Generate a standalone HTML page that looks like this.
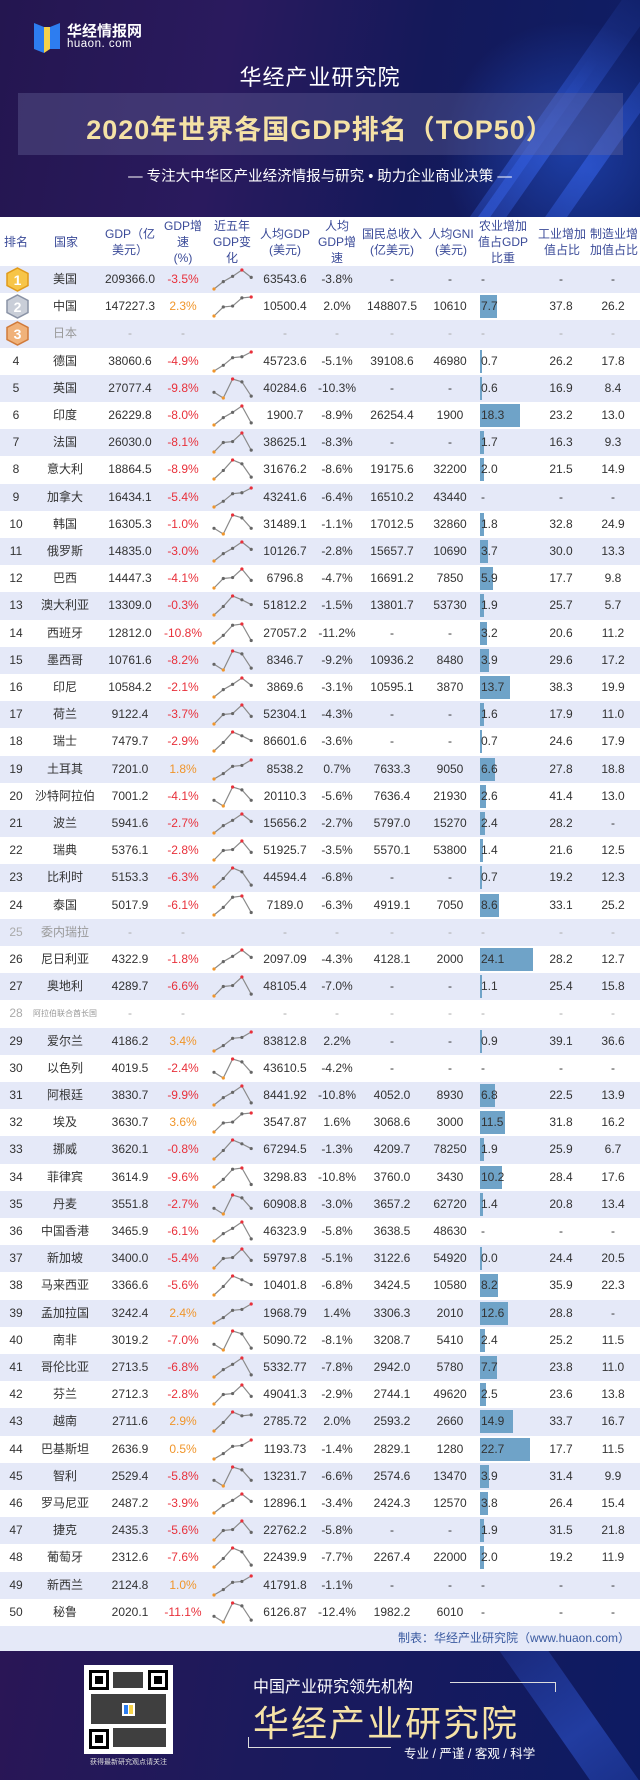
<!DOCTYPE html>
<html><head><meta charset="utf-8">
<style>
*{margin:0;padding:0;box-sizing:border-box}
body{width:640px;height:1780px;position:relative;overflow:hidden;background:#fff;font-family:"Liberation Sans","Noto Sans CJK SC",sans-serif;color:#333}
#hdr{position:absolute;left:0;top:0;width:640px;height:217px;background:linear-gradient(100deg,#241650 0%,#2a1a5e 35%,#14195a 65%,#0e1e66 100%);overflow:hidden}
#hdr .glow{position:absolute;right:-60px;top:20px;width:260px;height:260px;background:radial-gradient(circle,rgba(40,90,220,.55),rgba(20,40,140,0) 70%)}
.stripe{position:absolute;width:30px;height:420px;background:linear-gradient(180deg,rgba(60,110,255,0),rgba(60,110,255,.45),rgba(60,110,255,0));transform:rotate(35deg)}
.logo{position:absolute;left:34px;top:23px;width:26px;height:30px}
.lt1{position:absolute;left:67px;top:20px;color:#fff;font-size:15px;font-weight:bold}
.lt2{position:absolute;left:67px;top:38px;color:#fff;font-size:11.5px;letter-spacing:.5px}
.t1{position:absolute;left:0;width:640px;top:60px;text-align:center;color:#fff;font-size:22px;letter-spacing:1px}
.tbox{position:absolute;left:18px;top:93px;width:605px;height:62px;background:rgba(110,110,160,.35)}
.t2{position:absolute;left:0;width:640px;top:108px;text-align:center;color:#f5e2a6;font-size:27px;font-weight:bold;letter-spacing:1px}
.t3{position:absolute;left:0;width:640px;top:165px;text-align:center;color:#fff;font-size:14.5px}
#th{position:absolute;left:0;top:217px;width:640px;height:49px;color:#3a4a98;font-size:12px;line-height:16px}
#th div{position:absolute;top:0;height:49px;display:flex;align-items:center;justify-content:center;text-align:center}
.row{position:absolute;left:0;width:640px;height:27.2px;font-size:12px}
.row.s{background:#e5e9f8}
.row div{position:absolute;top:0;height:27.2px;line-height:27.2px;text-align:center;white-space:nowrap}
.neg{color:#e8303a}.pos{color:#f0952a}
.g{color:#aaa}
.row div.bar{position:absolute;left:480px;top:2px;height:23px;background:#6fa3c8}
.agt{text-align:left!important}
.medal{position:absolute;left:5px;top:1px;width:25px;height:25px}
#src{position:absolute;left:0;top:1626px;width:640px;height:25px;background:#e5e9f8;color:#3a5aa0;font-size:12px;text-align:right;padding-right:10px;line-height:25px}
#ftr{position:absolute;left:0;top:1651px;width:640px;height:129px;background:linear-gradient(100deg,#2a1656 0%,#1c1a5c 40%,#0d1b62 100%);overflow:hidden}
.qr{position:absolute;left:84px;top:14px;width:89px;height:89px;background:#fff;padding:5px}
.qrc{position:absolute;left:84px;top:106px;width:89px;text-align:center;color:#ddd;font-size:7px}
.f1{position:absolute;left:253px;top:22px;color:#fff;font-size:16px}
.f2{position:absolute;left:253px;top:44px;color:#f5e2a6;font-size:36px;letter-spacing:2px}
.f3{position:absolute;left:404px;top:92px;color:#fff;font-size:12.5px}
</style></head><body>
<div id="hdr">
<div class="glow"></div>
<div class="stripe" style="left:520px;top:-60px"></div>
<div class="stripe" style="left:580px;top:-40px;width:18px"></div>
<div class="stripe" style="left:470px;top:20px;width:10px"></div>
<svg class="logo" viewBox="0 0 26 30"><polygon points="0,0 10,4 10,30 0,26" fill="#2d7df0"/><polygon points="10,4 16,4 16,26 10,30" fill="#f5d24a"/><polygon points="16,4 26,0 26,26 16,26" fill="#2d7df0"/></svg>
<div class="lt1">华经情报网</div>
<div class="lt2">huaon. com</div>
<div class="t1">华经产业研究院</div>
<div class="tbox"></div>
<div class="t2">2020年世界各国GDP排名（TOP50）</div>
<div class="t3">— 专注大中华区产业经济情报与研究 • 助力企业商业决策 —</div>
</div>
<div id="th">
<div style="left:0;width:32px">排名</div>
<div style="left:40px;width:52px">国家</div>
<div style="left:100px;width:60px">GDP（亿<br>美元）</div>
<div style="left:162px;width:42px">GDP增<br>速<br>(%)</div>
<div style="left:208px;width:48px">近五年<br>GDP变<br>化</div>
<div style="left:258px;width:54px">人均GDP<br>(美元)</div>
<div style="left:314px;width:46px">人均<br>GDP增<br>速</div>
<div style="left:362px;width:60px">国民总收入<br>(亿美元)</div>
<div style="left:424px;width:54px">人均GNI<br>(美元)</div>
<div style="left:478px;width:50px">农业增加<br>值占GDP<br>比重</div>
<div style="left:534px;width:56px">工业增加<br>值占比</div>
<div style="left:588px;width:52px">制造业增<br>加值占比</div>
</div>
<div id="rows"></div>
<div id="src">制表：华经产业研究院（www.huaon.com）</div>
<div id="ftr">
<div style="position:absolute;left:560px;top:-120px;width:40px;height:400px;background:linear-gradient(180deg,rgba(60,110,255,0),rgba(60,110,255,.4),rgba(60,110,255,0));transform:rotate(-35deg)"></div>
<div class="qr"><svg width="79" height="79" viewBox="0 0 79 79"><rect x="0" y="0" width="20" height="20" fill="#000"/><rect x="3" y="3" width="14" height="14" fill="#fff"/><rect x="6" y="6" width="8" height="8" fill="#000"/><rect x="59" y="0" width="20" height="20" fill="#000"/><rect x="62" y="3" width="14" height="14" fill="#fff"/><rect x="65" y="6" width="8" height="8" fill="#000"/><rect x="0" y="59" width="20" height="20" fill="#000"/><rect x="3" y="62" width="14" height="14" fill="#fff"/><rect x="6" y="65" width="8" height="8" fill="#000"/><g fill="#000" opacity=".75"><rect x="24" y="2" width="30" height="16"/><rect x="2" y="24" width="75" height="30"/><rect x="24" y="58" width="53" height="19"/></g><rect x="33" y="33" width="13" height="13" fill="#fff"/><rect x="35" y="35" width="4" height="9" fill="#2d7df0"/><rect x="40" y="35" width="4" height="9" fill="#f5d24a"/></svg></div>
<div class="qrc">获得最新研究观点请关注</div>
<div class="f1">中国产业研究领先机构</div>
<div style="position:absolute;left:450px;top:31px;width:105px;height:1px;background:#ddd"></div>
<div style="position:absolute;left:555px;top:31px;width:1px;height:10px;background:#ddd"></div>
<div class="f2">华经产业研究院</div>
<div style="position:absolute;left:248px;top:96px;width:143px;height:1px;background:#ddd"></div>
<div style="position:absolute;left:248px;top:86px;width:1px;height:10px;background:#ddd"></div>
<div class="f3">专业 / 严谨 / 客观 / 科学</div>
</div>
<script>
(function(){
var D=[
["美国","209366.0","-3.5%","63543.6","-3.8%","-","-","","-","-"],
["中国","147227.3","2.3%","10500.4","2.0%","148807.5","10610","7.7","37.8","26.2"],
["日本","-","-","-","-","-","-","-","-","-"],
["德国","38060.6","-4.9%","45723.6","-5.1%","39108.6","46980","0.7","26.2","17.8"],
["英国","27077.4","-9.8%","40284.6","-10.3%","-","-","0.6","16.9","8.4"],
["印度","26229.8","-8.0%","1900.7","-8.9%","26254.4","1900","18.3","23.2","13.0"],
["法国","26030.0","-8.1%","38625.1","-8.3%","-","-","1.7","16.3","9.3"],
["意大利","18864.5","-8.9%","31676.2","-8.6%","19175.6","32200","2.0","21.5","14.9"],
["加拿大","16434.1","-5.4%","43241.6","-6.4%","16510.2","43440","-","-","-"],
["韩国","16305.3","-1.0%","31489.1","-1.1%","17012.5","32860","1.8","32.8","24.9"],
["俄罗斯","14835.0","-3.0%","10126.7","-2.8%","15657.7","10690","3.7","30.0","13.3"],
["巴西","14447.3","-4.1%","6796.8","-4.7%","16691.2","7850","5.9","17.7","9.8"],
["澳大利亚","13309.0","-0.3%","51812.2","-1.5%","13801.7","53730","1.9","25.7","5.7"],
["西班牙","12812.0","-10.8%","27057.2","-11.2%","-","-","3.2","20.6","11.2"],
["墨西哥","10761.6","-8.2%","8346.7","-9.2%","10936.2","8480","3.9","29.6","17.2"],
["印尼","10584.2","-2.1%","3869.6","-3.1%","10595.1","3870","13.7","38.3","19.9"],
["荷兰","9122.4","-3.7%","52304.1","-4.3%","-","-","1.6","17.9","11.0"],
["瑞士","7479.7","-2.9%","86601.6","-3.6%","-","-","0.7","24.6","17.9"],
["土耳其","7201.0","1.8%","8538.2","0.7%","7633.3","9050","6.6","27.8","18.8"],
["沙特阿拉伯","7001.2","-4.1%","20110.3","-5.6%","7636.4","21930","2.6","41.4","13.0"],
["波兰","5941.6","-2.7%","15656.2","-2.7%","5797.0","15270","2.4","28.2","-"],
["瑞典","5376.1","-2.8%","51925.7","-3.5%","5570.1","53800","1.4","21.6","12.5"],
["比利时","5153.3","-6.3%","44594.4","-6.8%","-","-","0.7","19.2","12.3"],
["泰国","5017.9","-6.1%","7189.0","-6.3%","4919.1","7050","8.6","33.1","25.2"],
["委内瑞拉","-","-","-","-","-","-","-","-","-"],
["尼日利亚","4322.9","-1.8%","2097.09","-4.3%","4128.1","2000","24.1","28.2","12.7"],
["奥地利","4289.7","-6.6%","48105.4","-7.0%","-","-","1.1","25.4","15.8"],
["阿拉伯联合酋长国","-","-","-","-","-","-","-","-","-"],
["爱尔兰","4186.2","3.4%","83812.8","2.2%","-","-","0.9","39.1","36.6"],
["以色列","4019.5","-2.4%","43610.5","-4.2%","-","-","-","-","-"],
["阿根廷","3830.7","-9.9%","8441.92","-10.8%","4052.0","8930","6.8","22.5","13.9"],
["埃及","3630.7","3.6%","3547.87","1.6%","3068.6","3000","11.5","31.8","16.2"],
["挪威","3620.1","-0.8%","67294.5","-1.3%","4209.7","78250","1.9","25.9","6.7"],
["菲律宾","3614.9","-9.6%","3298.83","-10.8%","3760.0","3430","10.2","28.4","17.6"],
["丹麦","3551.8","-2.7%","60908.8","-3.0%","3657.2","62720","1.4","20.8","13.4"],
["中国香港","3465.9","-6.1%","46323.9","-5.8%","3638.5","48630","-","-","-"],
["新加坡","3400.0","-5.4%","59797.8","-5.1%","3122.6","54920","0.0","24.4","20.5"],
["马来西亚","3366.6","-5.6%","10401.8","-6.8%","3424.5","10580","8.2","35.9","22.3"],
["孟加拉国","3242.4","2.4%","1968.79","1.4%","3306.3","2010","12.6","28.8","-"],
["南非","3019.2","-7.0%","5090.72","-8.1%","3208.7","5410","2.4","25.2","11.5"],
["哥伦比亚","2713.5","-6.8%","5332.77","-7.8%","2942.0","5780","7.7","23.8","11.0"],
["芬兰","2712.3","-2.8%","49041.3","-2.9%","2744.1","49620","2.5","23.6","13.8"],
["越南","2711.6","2.9%","2785.72","2.0%","2593.2","2660","14.9","33.7","16.7"],
["巴基斯坦","2636.9","0.5%","1193.73","-1.4%","2829.1","1280","22.7","17.7","11.5"],
["智利","2529.4","-5.8%","13231.7","-6.6%","2574.6","13470","3.9","31.4","9.9"],
["罗马尼亚","2487.2","-3.9%","12896.1","-3.4%","2424.3","12570","3.8","26.4","15.4"],
["捷克","2435.3","-5.6%","22762.2","-5.8%","-","-","1.9","31.5","21.8"],
["葡萄牙","2312.6","-7.6%","22439.9","-7.7%","2267.4","22000","2.0","19.2","11.9"],
["新西兰","2124.8","1.0%","41791.8","-1.1%","-","-","-","-","-"],
["秘鲁","2020.1","-11.1%","6126.87","-12.4%","1982.2","6010","-","-","-"]];
var html="";
function medal(n){var c=[["#f7c548","#e09a1a"],["#c9ced8","#8a93a6"],["#f0b27a","#d07a3a"]][n-1];
return '<svg class="medal" viewBox="0 0 25 25"><polygon points="12.5,1 23,6.5 23,18.5 12.5,24 2,18.5 2,6.5" fill="'+c[0]+'" stroke="'+c[1]+'" stroke-width="1.5"/><text x="12.5" y="18" text-anchor="middle" font-size="14" font-weight="bold" fill="#fff" font-family="Liberation Sans">'+n+'</text></svg>';}
function spark(i,g){var s=(i*37)%5;var base=[[0,.35,.6,.9,.55],[0,.3,.7,.75,1],[0,.5,.55,1,.4],[.3,0,1,.85,.3],[0,.45,1,.8,.55]][s];
var gv=parseFloat(g);var v=base.slice();if(gv>0){v[4]=Math.max(v[3],v[4])+.05}else if(gv<-6){v[4]=Math.min(v[4],.1)}
var mn=Math.min.apply(0,v),mx=Math.max.apply(0,v);var p=[];for(var k=0;k<5;k++){p.push([214+k*9.3,23-(v[k]-mn)/(mx-mn||1)*19]);}
var o='<svg style="position:absolute;left:0;top:0" width="640" height="27"><polyline fill="none" stroke="#8a8a8a" stroke-width="1.2" points="'+p.map(function(a){return a.join(",")}).join(" ")+'"/>';
for(k=0;k<5;k++){var col="#666";if(v[k]==mx)col="#e8303a";if(v[k]==mn)col="#f0952a";o+='<circle cx="'+p[k][0]+'" cy="'+p[k][1]+'" r="1.6" fill="'+col+'"/>';}
return o+'</svg>';}
for(var i=0;i<D.length;i++){var d=D[i],r=i+1,ty=266+i*27.2,blank=d[1]=="-";
html+='<div class="row'+(i%2==0?' s':'')+'" style="top:'+ty+'px">';
if(r<=3)html+=medal(r);else html+='<div style="left:4px;width:24px'+(blank?';color:#aaa':'')+'">'+r+'</div>';
var cn=d[0];html+='<div style="left:30px;width:70px;'+(blank?'color:#999;':'')+(cn.length>6?'font-size:8px;':'')+'">'+cn+'</div>';
var xs=[130,183,285,337,392,450];var vals=[d[1],d[2],d[3],d[4],d[5],d[6]];
for(var j=0;j<6;j++){var cls=blank?'g':'';if(j==1&&!blank)cls=parseFloat(d[2])<0?'neg':'pos';
html+='<div class="'+cls+'" style="left:'+(xs[j]-32)+'px;width:64px">'+vals[j]+'</div>';}
if(!blank)html+=spark(i,d[2]);
if(d[7]&&d[7]!="-"){var w=Math.max(2,parseFloat(d[7])*2.2);html+='<div class="bar" style="width:'+w+'px"></div>';}
html+='<div class="agt'+(blank?' g':'')+'" style="left:481px;width:40px">'+(d[7]||"-")+'</div>';
html+='<div class="'+(blank?'g':'')+'" style="left:531px;width:60px">'+d[8]+'</div>';
html+='<div class="'+(blank?'g':'')+'" style="left:585px;width:56px">'+d[9]+'</div>';
html+='</div>';}
document.getElementById("rows").innerHTML=html;
})();
</script>
</body></html>
